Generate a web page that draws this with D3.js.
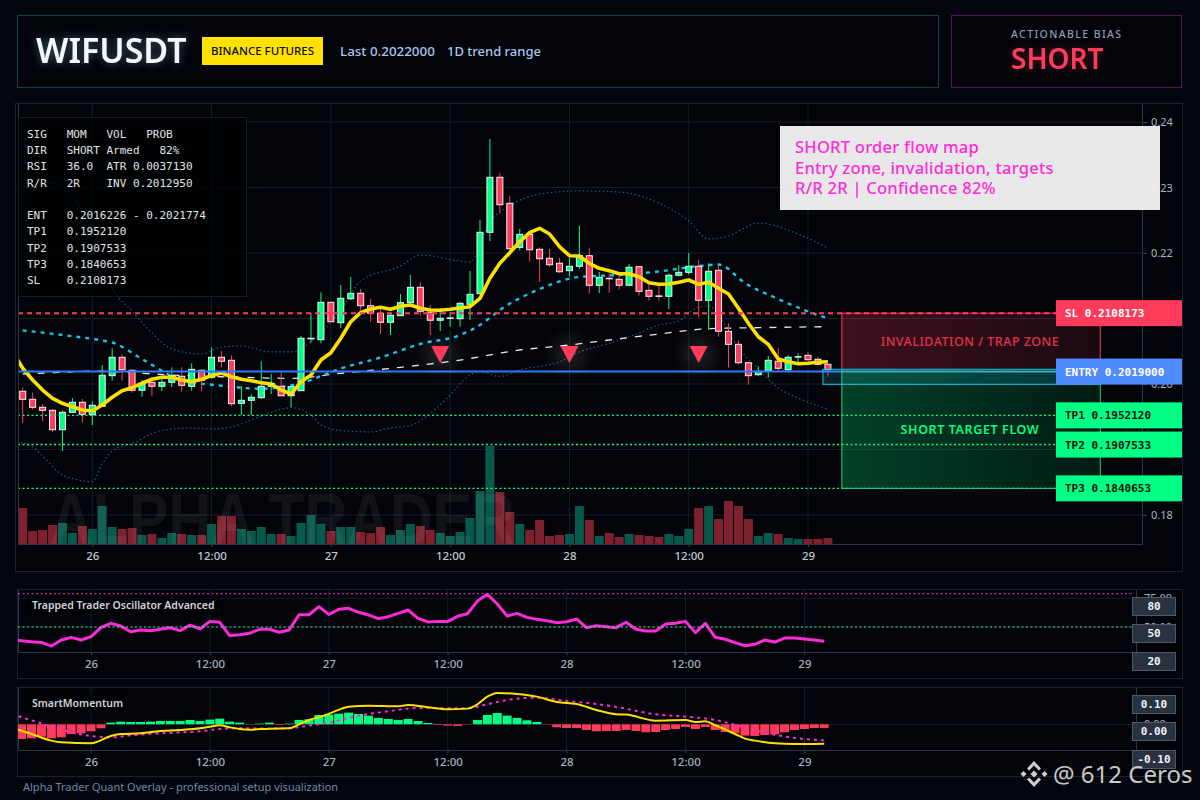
<!DOCTYPE html>
<html>
<head>
<meta charset="utf-8">
<script src="https://cdn.jsdelivr.net/npm/d3@7"></script>
<style>
    html, body { margin: 0; padding: 0; background: #03060d; }
    svg { display: block; }
    text { font-family: "Noto Sans", sans-serif; }
    .mono, .mono text { font-family: "DejaVu Sans Mono", monospace; white-space: pre; }
    .axis path { display: none; }
</style>
</head>
<body>
<div id="canvas"></div>
<script>
// hourly candles, index 7 = day 26 00:00
const candleOpen = [
    .19889, .19766, .19644, .19598, .19302, .19568, .19721, .19531, .1966, .20127,
    .20408, .20209, .19904, .20026, .19965, .20026, .20118, .19965, .20209, .20102,
    .20408, .20362, .19705, .19751, .19791, .19965, .19965, .19821, .19898, .2069,
    .20676, .21247, .20936, .21302, .21385, .21195, .21079, .20942, .21043, .21241,
    .21476, .21095, .20973, .21003, .20997, .21217, .21379, .22316, .23156, .22759,
    .22087, .22285, .22056, .21919, .21843, .2173, .21797, .21959, .21507, .21614,
    .21598, .21507, .21791, .2143, .21345, .21339, .2166, .21705, .21797, .21278,
    .21736, .20805, .20606, .20325, .20142, .20203, .20347, .20218, .2041, .20438,
    .20377, .20301];
const candleHigh = [
    .1995, .19873, .19695, .19614, .19598, .19786, .19771, .19736, .20285, .20545,
    .20453, .20224, .20061, .20111, .20087, .20255, .20255, .20316, .20224, .2056,
    .20504, .20438, .19969, .19843, .20347, .20153, .20179, .19959, .20733, .21084,
    .214, .21263, .21511, .21634, .2145, .21298, .21171, .21084, .21374, .21664,
    .21557, .21206, .21156, .21095, .21247, .21725, .22504, .2374, .23221, .2287,
    .22366, .22325, .22087, .22061, .21924, .21928, .22412, .22072, .2171, .2169,
    .21699, .21832, .21801, .21522, .21511, .2169, .21817, .22, .21889, .21843,
    .21812, .20927, .20667, .20325, .2027, .20427, .2055, .20438, .20469, .20484,
    .20412, .20301];
const candleLow = [
    .19409, .19614, .19435, .19272, .18977, .19557, .19409, .19374, .19649, .2005,
    .2005, .19867, .19806, .19821, .19893, .19954, .19882, .19898, .19898, .20081,
    .20255, .19664, .19527, .19527, .19776, .19847, .19821, .19649, .19893, .20631,
    .20621, .20951, .20855, .21282, .2111, .20947, .20763, .20748, .21043, .21232,
    .21043, .20748, .20809, .20875, .20875, .20977, .21379, .22183, .22606, .21943,
    .22035, .21867, .21557, .21791, .21699, .21638, .21756, .21379, .21389, .21394,
    .2144, .21507, .21348, .21272, .21272, .21145, .21644, .21669, .21018, .20824,
    .20722, .20249, .20295, .19989, .20127, .20096, .20188, .20188, .20316, .20356,
    .20285, .20111];
const candleClose = [
    .19766, .19644, .19598, .19302, .19568, .19721, .19537, .19675, .20133, .20408,
    .20218, .19904, .20011, .19965, .20026, .20127, .1998, .20224, .20056, .20408,
    .20347, .19699, .19751, .19797, .19965, .20011, .19821, .19959, .20698, .20698,
    .21247, .20951, .21308, .21385, .21195, .21079, .20942, .21049, .21241, .21476,
    .2111, .20973, .21003, .2101, .21232, .21369, .22316, .23156, .22737, .22066,
    .22285, .2205, .21913, .21821, .21714, .21797, .21959, .21507, .21629, .21608,
    .21507, .21782, .21415, .21339, .21339, .2166, .21705, .21797, .21278, .21721,
    .20805, .20606, .20325, .20127, .20194, .20362, .2024, .20408, .20417, .20371,
    .20301, .20218];
const volume = [
    36, 13, 14, 19, 21, 11, 18, 15, 38, 17,
    15, 16, 9, 10, 6, 11, 10, 9, 9, 20,
    28, 28, 15, 13, 17, 10, 10, 8, 21, 29,
    20, 13, 17, 17, 12, 11, 17, 9, 14, 20,
    18, 14, 11, 8, 12, 26, 53, 98, 52, 32,
    20, 14, 24, 8, 9, 10, 38, 24, 8, 11,
    7, 10, 9, 8, 7, 10, 8, 15, 36, 38,
    25, 43, 38, 25, 8, 11, 10, 6, 5, 5,
    5, 6];

// overlays on the price pane, first value sits one hour before the first candle
const emaLine = [
    .20493, .2024, .20061, .19908, .19782, .19705, .19653, .19603, .19588, .19679,
    .19797, .19898, .19944, .20011, .20072, .20102, .20102, .20061, .20035, .20072,
    .20127, .20168, .20111, .20072, .2005, .2002, .2, .19908, .19847, .20035,
    .20137, .20366, .20478, .20698, .20951, .21089, .21145, .21171, .2114, .21186,
    .21206, .21156, .2113, .21125, .2114, .2116, .2118, .21308, .21614, .21843,
    .22005, .22172, .2231, .22377, .2229, .22096, .21959, .21954, .21843, .21766,
    .2173, .21684, .21684, .21638, .21547, .21522, .21527, .21553, .21588, .21522,
    .21553, .21461, .21374, .21156, .20927, .20722, .20606, .20382, .2034, .2031,
    .20316, .20331, .2034];
const midHour = [0, 4, 8, 9, 12, 16, 20, 24, 28, 32, 36, 40, 44, 46, 48, 52, 56, 60, 64, 68, 70, 71, 72, 76, 80, 81];
const midBand = [
    .20818, .20748, .20664, .20634, .20382, .20061, .19974, .19928, .20015, .20237,
    .20405, .20611, .20748, .20901, .2113, .2145, .21634, .21664, .21718, .21801,
    .21824, .21756, .21618, .21298, .21053, .21003];
const upperHour = [0, 3, 5, 7, 9, 11, 13, 15, 18, 20, 22, 25, 27, 29, 32, 34, 38, 40, 45, 47, 49, 52, 56, 60, 64, 67, 69, 71, 74, 78, 81];
const upperBand = [
    .22962, .23069, .2287, .22305, .21466, .21114, .20779, .20534, .20458, .20565,
    .2058, .20489, .20489, .20641, .2113, .21572, .21801, .21969, .21863, .22473,
    .22718, .22901, .22947, .22931, .22763, .22489, .22214, .2226, .22458, .2229,
    .22076];
const lowerHour = [-1, 1, 2, 4, 5, 7, 8, 9, 11, 14, 17, 19, 21, 24, 27, 29, 30, 32, 35, 37, 39, 41, 43, 45, 46, 48, 50, 54, 56, 59, 62, 64, 66, 67, 68, 69, 70, 72, 74, 76, 78, 81];
const lowerBand = [
    .1913, .19043, .18901, .18611, .18557, .18508, .18779, .18977, .19092, .1929,
    .19328, .19313, .19344, .19511, .19638, .19527, .19374, .1929, .19267, .19328,
    .19366, .19553, .19832, .20137, .20191, .20115, .20214, .2034, .20489, .20621,
    .20779, .20901, .20962, .21084, .21176, .21191, .21053, .2055, .20229, .19939,
    .19786, .19614];
const slowHour = [0, 3, 8, 11, 15, 20, 27, 32, 38, 44, 50, 55, 59, 64, 69, 74, 81];
const slowLine = [
    .20153, .20173, .20198, .20173, .20137, .20111, .20087, .20163, .20255, .20366,
    .20519, .20595, .20672, .20763, .20844, .2086, .20875];

const signalHour = [42, 55, 68];
const signalPrice = [.2058, .2058, .2058];

const priceTicks = [.18, .19, .20, .21, .22, .23, .24];
const timeTicks = [7, 19, 31, 43, 55, 67, 79];
const timeLabels = ["26", "12:00", "27", "12:00", "28", "12:00", "29"];

const levelPrices = [.2108173, .2019, .195212, .1907533, .1840653];
const levelLabels = ["SL 0.2108173", "ENTRY 0.2019000", "TP1 0.1952120", "TP2 0.1907533", "TP3 0.1840653"];
const levelColors = ["#ff3b5c", "#4f8cff", "#00ff85", "#00ff85", "#00ff85"];

const tableRows = [
    "SIG   MOM   VOL   PROB",
    "DIR   SHORT Armed   82%",
    "RSI   36.0  ATR 0.0037130",
    "R/R   2R    INV 0.2012950",
    "",
    "ENT   0.2016226 - 0.2021774",
    "TP1   0.1952120",
    "TP2   0.1907533",
    "TP3   0.1840653",
    "SL    0.2108173"
];
const noteRows = ["SHORT order flow map", "Entry zone, invalidation, targets", "R/R 2R | Confidence 82%"];

// oscillator panes, first value one hour before first candle
const oscLine = [
    39.3, 38.1, 37.2, 36.6, 33.4, 38.7, 41.0, 38.7, 41.6, 49.4,
    53.2, 50.9, 45.9, 47.4, 46.8, 48.0, 49.4, 46.8, 51.7, 48.3,
    54.9, 54.1, 42.5, 43.3, 44.5, 48.0, 48.0, 45.4, 47.4, 60.7,
    60.7, 67.7, 61.0, 65.4, 66.3, 62.8, 60.5, 57.3, 59.0, 61.9,
    64.8, 57.5, 54.4, 54.9, 54.9, 59.3, 61.6, 72.6, 78.5, 70.0,
    59.6, 61.9, 58.4, 56.7, 55.5, 53.8, 54.6, 57.0, 49.4, 51.2,
    50.3, 49.4, 54.1, 48.0, 46.5, 46.5, 52.6, 53.2, 54.9, 45.1,
    53.2, 41.0, 39.3, 36.4, 33.7, 34.9, 38.7, 36.9, 40.4, 40.4,
    39.5, 38.7, 37.5];
const oscLevels = [79, 50];
const oscLevelColors = ["#ff2bd6", "#2fe6a8"];
const oscAxisTicks = [50, 75];
const oscBoxLabels = ["80", "50", "20"];

const momHist = [
    -.0533, -.0509, -.0448, -.0509, -.0473, -.0352, -.0327, -.0255, -.0145, .0061,
    .0097, .0085, .0085, .0097, .0121, .0121, .0121, .0158, .0121, .017,
    .0206, .0097, .0061, -.0012, .0024, .0061, -.0024, .0024, .0158, .0182,
    .0339, .0352, .0388, .0424, .0376, .0315, .023, .0194, .0158, .0194,
    .0121, .0048, -.0024, -.0048, -.0061, -.0012, .0158, .0339, .0412, .0315,
    .023, .0145, .0085, -.0012, -.0109, -.0133, -.0133, -.0206, -.0255, -.0242,
    -.0242, -.0206, -.0242, -.0291, -.0279, -.0206, -.017, -.0097, -.017, -.0097,
    -.0206, -.0279, -.0327, -.0412, -.0424, -.0388, -.0364, -.0291, -.0206, -.017,
    -.0133, -.0133];
const momHour = [-1, 1, 3, 4, 7, 9, 10, 12, 14, 16, 18, 19, 20, 21, 22, 23, 25, 27, 28, 29, 30, 31, 33, 35, 38, 39, 41, 43, 45, 46, 47, 48, 50, 52, 54, 56, 58, 60, 61, 64, 67, 68, 69, 70, 72, 73, 74, 76, 78, 81];
const momLine = [
    -.0121, -.0352, -.0594, -.0655, -.0691, -.0424, -.0352, -.0327, -.0242, -.0206,
    -.0145, -.0085, -.0036, -.0109, -.017, -.0194, -.0158, -.0145, 0, .0158,
    .0255, .0376, .0642, .0679, .0655, .0703, .0618, .0545, .057, .0727,
    .1006, .1139, .1103, .1006, .0812, .0739, .0521, .0364, .0352, .0133,
    .0158, .0085, .0109, -.0036, -.0352, -.0521, -.0594, -.0691, -.0715, -.0703];
const momSignalHour = [-1, 1, 3, 5, 7, 9, 11, 14, 18, 20, 22, 25, 27, 29, 31, 34, 37, 40, 45, 47, 49, 52, 55, 58, 60, 64, 67, 70, 73, 75, 78, 81];
const momSignal = [
    .0364, .0145, -.0085, -.0291, -.0424, -.0473, -.04, -.0327, -.0255, -.017,
    -.0145, -.0158, -.0145, -.0048, .0061, .0315, .0473, .0594, .0582, .0727,
    .0885, .097, .0848, .0739, .063, .0364, .0279, .0158, -.0121, -.0303,
    -.0497, -.0582];
const momAxisTicks = [0];
const momBoxLabels = ["0.10", "0.00", "-0.10"];

const green = "#00ff85", red = "#ff3b5c", gold = "#ffe100", magenta = "#ff2bd6", cyan = "#17c6e8";

const svg = d3.select("#canvas").append("svg").attr("width", 1200).attr("height", 800);
const defs = svg.append("defs");

function glow(id, color, dev, opacity) {
    const f = defs.append("filter").attr("id", id).attr("x", "-30%").attr("y", "-60%").attr("width", "160%").attr("height", "220%");
    f.append("feDropShadow").attr("dx", 0).attr("dy", 0).attr("stdDeviation", dev)
        .attr("flood-color", color).attr("flood-opacity", opacity);
}
glow("glowTitle", "#8fd8ff", 4, .4);
glow("glowShort", red, 4, .3);

function fade(id, color, from, to) {
    const g = defs.append("linearGradient").attr("id", id);
    g.append("stop").attr("offset", "0").attr("stop-color", color).attr("stop-opacity", from);
    g.append("stop").attr("offset", "1").attr("stop-color", color).attr("stop-opacity", to);
}
fade("trapFill", red, .24, .1);
fade("flowFill", green, .24, .09);

const halo = defs.append("radialGradient").attr("id", "halo");
halo.append("stop").attr("offset", "0").attr("stop-color", "#fff").attr("stop-opacity", .12);
halo.append("stop").attr("offset", "1").attr("stop-color", "#fff").attr("stop-opacity", 0);

function clip(id, x, y, w, h) {
    defs.append("clipPath").attr("id", id).append("rect").attr("x", x).attr("y", y).attr("width", w).attr("height", h);
}
clip("mainClip", 18, 104, 1124, 440);
clip("oscClip", 18, 590, 1118, 62);
clip("momClip", 18, 688, 1118, 62);

function panel(x, y, w, h, stroke, fill) {
    return svg.append("rect").attr("x", x + .5).attr("y", y + .5).attr("width", w).attr("height", h)
        .attr("fill", fill || "#02040a").attr("stroke", stroke);
}

// header
panel(17, 15, 921, 72, "#10404e");
panel(951, 15, 230, 72, "#55145f");
svg.append("text").text("WIFUSDT").attr("x", 36).attr("y", 63).attr("fill", "#f4f7fb")
    .attr("font-size", 34).attr("font-weight", 600).attr("filter", "url(#glowTitle)");
svg.append("rect").attr("x", 202).attr("y", 37).attr("width", 121).attr("height", 28).attr("fill", gold);
svg.append("text").text("BINANCE FUTURES").attr("x", 262.5).attr("y", 55).attr("text-anchor", "middle")
    .attr("fill", "#0a0a0a").attr("font-size", 11.5).attr("font-weight", 500);
svg.append("text").text("Last 0.2022000").attr("x", 340).attr("y", 56).attr("fill", "#a9c4ea")
    .attr("font-size", 13.4).attr("font-weight", 500);
svg.append("text").text("1D trend range").attr("x", 447).attr("y", 56).attr("fill", "#a9c4ea")
    .attr("font-size", 13).attr("font-weight", 500);
svg.append("text").text("ACTIONABLE BIAS").attr("x", 1011).attr("y", 38).attr("fill", "#8f9ab0")
    .attr("font-size", 10.5).attr("font-weight", 500).attr("letter-spacing", 1.4);
svg.append("text").text("SHORT").attr("x", 1011).attr("y", 69).attr("fill", red)
    .attr("font-size", 28).attr("font-weight", 600).attr("filter", "url(#glowShort)");

// main pane
panel(15, 103, 1167, 468, "#1a2230");

const x = d3.scaleLinear().domain([0, 81]).range([22.7, 827.9]);
const y = d3.scaleLinear().domain([.18, .24]).range([515, 122]);
const yVol = d3.scaleLinear().domain([0, 100]).range([544, 444]);

const grid = svg.append("g");
grid.selectAll("line.h").data(priceTicks).enter().append("line")
    .attr("x1", 18).attr("x2", 1142).attr("y1", d => y(d)).attr("y2", d => y(d)).attr("stroke", "#171c26");
grid.selectAll("line.v").data(timeTicks).enter().append("line")
    .attr("x1", d => x(d)).attr("x2", d => x(d)).attr("y1", 104).attr("y2", 544).attr("stroke", "#0f1f29");

const main = svg.append("g").attr("clip-path", "url(#mainClip)");

const isUp = i => candleClose[i] >= candleOpen[i];
const hours = d3.range(candleOpen.length);

main.selectAll("rect.vol").data(hours).enter().append("rect")
    .attr("x", i => x(i) - 4.5).attr("width", 9)
    .attr("y", i => yVol(volume[i])).attr("height", i => yVol(0) - yVol(volume[i]))
    .attr("fill", i => isUp(i) ? "#07594b" : "#7e202d");

main.append("text").text("ALPHA TRADER").attr("x", 50).attr("y", 544).attr("fill", "#fff").attr("fill-opacity", .06)
    .attr("font-size", 72).attr("font-weight", 700).attr("textLength", 465).attr("lengthAdjust", "spacingAndGlyphs")
    .attr("style", "font-family:'Liberation Sans',sans-serif");

function curve(hourArr, values, color, width, dash) {
    const line = d3.line().x((d, i) => x(hourArr[i])).y(d => y(d)).curve(d3.curveMonotoneX);
    return main.append("path").attr("d", line(values)).attr("fill", "none").attr("stroke", color)
        .attr("stroke-width", width).attr("stroke-dasharray", dash);
}

curve(upperHour, upperBand, "#14637c", 1.2, "1.5 2.5");
curve(lowerHour, lowerBand, "#14637c", 1.2, "1.5 2.5");
curve(slowHour, slowLine, "#e8e8e8", 1.3, "7 8");
curve(midHour, midBand, cyan, 2.4, "4 5");

// candles
main.selectAll("line.wick").data(hours).enter().append("line")
    .attr("x1", i => x(i)).attr("x2", i => x(i))
    .attr("y1", i => y(candleHigh[i])).attr("y2", i => y(candleLow[i]))
    .attr("stroke", i => isUp(i) ? green : red).attr("stroke-width", 1);
main.selectAll("rect.body").data(hours).enter().append("rect")
    .attr("x", i => x(i) - 3).attr("width", 6)
    .attr("y", i => y(Math.max(candleOpen[i], candleClose[i])))
    .attr("height", i => Math.max(.5, y(Math.min(candleOpen[i], candleClose[i])) - y(Math.max(candleOpen[i], candleClose[i]))))
    .attr("fill", i => isUp(i) ? green : red).attr("stroke", "#f2f2f2").attr("stroke-width", 1);

const emaPath = d3.line().x((d, i) => x(i - 1)).y(d => y(d));
main.append("path").attr("d", emaPath(emaLine)).attr("fill", "none").attr("stroke", gold)
    .attr("stroke-width", 3.6).attr("stroke-linejoin", "round");

// price levels
const levelEnd = 1056;
levelPrices.forEach((p, i) => {
    const l = main.append("line").attr("x1", 18).attr("x2", levelEnd).attr("y1", y(p)).attr("y2", y(p));
    if (i == 0) l.attr("stroke", red).attr("stroke-width", 2).attr("stroke-dasharray", "5 4");
    else if (i == 1) l.attr("stroke", "#2b7bff").attr("stroke-width", 2);
    else l.attr("stroke", green).attr("stroke-width", 1.4).attr("stroke-dasharray", "2 2.5");
});

// short signals
const triW = 9, triH = 17;
main.selectAll("circle.halo").data(signalHour).enter().append("circle")
    .attr("cx", d => x(d)).attr("cy", (d, i) => y(signalPrice[i]) + 8).attr("r", 26).attr("fill", "url(#halo)");
main.selectAll("path.sig").data(signalHour).enter().append("path")
    .attr("d", (d, i) => {
        const cx = x(d), top = y(signalPrice[i]);
        return `M${cx - triW},${top}L${cx + triW},${top}L${cx},${top + triH}Z`;
    })
    .attr("fill", red);

// zones, hours past the last candle are the projection area
const zoneStart = 82.4, zoneEnd = 108.4, entryStart = 80.5;
const zoneBox = (p1, p2, from, stroke, fill) => main.append("rect")
    .attr("x", x(from)).attr("width", x(zoneEnd) - x(from))
    .attr("y", y(p1)).attr("height", y(p2) - y(p1))
    .attr("fill", fill).attr("stroke", stroke).attr("stroke-width", 1);
zoneBox(levelPrices[0], levelPrices[1], zoneStart, red, "url(#trapFill)");
zoneBox(levelPrices[1], levelPrices[4], zoneStart, "#18d984", "url(#flowFill)");
zoneBox(.20225, .19995, entryStart, cyan, "#17c6e8").attr("fill-opacity", .16);

svg.append("text").text("INVALIDATION / TRAP ZONE").attr("x", 970).attr("y", 346).attr("text-anchor", "middle")
    .attr("fill", "#e8304e").attr("font-size", 12.5).attr("font-weight", 500).attr("letter-spacing", .5);
svg.append("text").text("SHORT TARGET FLOW").attr("x", 970).attr("y", 434).attr("text-anchor", "middle")
    .attr("fill", green).attr("font-size", 12.5).attr("font-weight", 600).attr("letter-spacing", .6);

// axes
const yAxis = svg.append("g").attr("class", "axis").attr("transform", "translate(1142,0)")
    .call(d3.axisRight(y).tickValues(priceTicks).tickFormat(d3.format(".2f")).tickSize(5).tickPadding(4));
yAxis.selectAll("line").attr("stroke", "#3a4556");
yAxis.selectAll("text").attr("fill", "#aab2c0").attr("font-size", 11).style("font-family", "'Noto Sans',sans-serif");

const xAxis = svg.append("g").attr("class", "axis").attr("transform", "translate(0,544)")
    .call(d3.axisBottom(x).tickValues(timeTicks).tickFormat((d, i) => timeLabels[i]).tickSize(3).tickPadding(5));
xAxis.selectAll("line").attr("stroke", "#3a4556");
xAxis.selectAll("text").attr("fill", "#c3c9d4").attr("font-size", 11.5).attr("font-weight", 500).style("font-family", "'Noto Sans',sans-serif");

svg.append("path").attr("d", "M18.5,104V544.5H1142.5V104").attr("fill", "none").attr("stroke", "#2c3646");

// readout table
svg.append("rect").attr("x", 18.5).attr("y", 117.5).attr("width", 228).attr("height", 179)
    .attr("fill", "#000").attr("fill-opacity", .72).attr("stroke", "#181d28");
const tableText = svg.append("g").attr("class", "mono");
const tableY = d3.scaleLinear().domain([0, 9]).range([138, 284]);
tableText.selectAll("text").data(tableRows).enter().append("text")
    .text(d => d).attr("x", 27).attr("y", (d, i) => tableY(i))
    .attr("fill", "#e2e4e8").attr("font-size", 11);

// note box
svg.append("rect").attr("x", 780).attr("y", 126).attr("width", 380).attr("height", 84).attr("fill", "#f0f0f0").attr("fill-opacity", .97);
svg.selectAll("text.note").data(noteRows).enter().append("text")
    .text(d => d).attr("x", 795).attr("y", (d, i) => 153 + i * 20.5)
    .attr("fill", magenta).attr("font-size", 16.5).attr("font-weight", 500).attr("letter-spacing", .25);

// level tags
const tags = svg.append("g").attr("class", "mono");
levelPrices.forEach((p, i) => {
    tags.append("rect").attr("x", 1056).attr("y", y(p) - 13).attr("width", 126).attr("height", 26).attr("fill", levelColors[i]);
    tags.append("text").text(levelLabels[i]).attr("x", 1065).attr("y", y(p) + 4)
        .attr("fill", i < 2 ? "#fff" : "#04130c").attr("font-size", 11).attr("font-weight", 700);
});

// sub panes
const xSub = d3.scaleLinear().domain([7, 79]).range([91, 804.4]);

function subPane(top, bottom, title, titleWidth, clipId, yScale, axisTicks, axisFormat, boxes, boxY) {
    panel(17, top, 1165, bottom - top, "#1a2230");
    const g = svg.append("g");
    g.selectAll("line.v").data(timeTicks).enter().append("line")
        .attr("x1", d => xSub(d)).attr("x2", d => xSub(d)).attr("y1", top + 1).attr("y2", top + 63).attr("stroke", "#0f1f29");
    g.selectAll("line.h").data(axisTicks).enter().append("line")
        .attr("x1", 18).attr("x2", 1136).attr("y1", d => yScale(d)).attr("y2", d => yScale(d)).attr("stroke", "#171c26");

    const ax = svg.append("g").attr("class", "axis").attr("transform", `translate(0,${top + 63})`)
        .call(d3.axisBottom(xSub).tickValues(timeTicks).tickFormat((d, i) => timeLabels[i]).tickSize(3).tickPadding(5));
    ax.selectAll("line").attr("stroke", "#3a4556");
    ax.selectAll("text").attr("fill", "#a9b0bd").attr("font-size", 11.5).attr("font-weight", 500).style("font-family", "'Noto Sans',sans-serif");

    const rightAxis = svg.append("g").attr("class", "axis").attr("transform", "translate(1136,0)")
        .call(d3.axisRight(yScale).tickValues(axisTicks).tickFormat(axisFormat).tickSize(0).tickPadding(8));
    rightAxis.selectAll("text").attr("fill", "#aab2c0").attr("font-size", 11).style("font-family", "'Noto Sans',sans-serif");

    svg.append("path").attr("d", `M18.5,${top + 1}V${top + 63.5}H1136.5V${top + 1}`).attr("fill", "none").attr("stroke", "#2c3646");

    const body = svg.append("g").attr("clip-path", `url(#${clipId})`);

    const titleG = svg.append("g");
    titleG.append("rect").attr("x", 26).attr("y", top + 7).attr("width", titleWidth).attr("height", 18).attr("fill", "#000").attr("fill-opacity", .5);
    titleG.append("text").text(title).attr("x", 32).attr("y", top + 20).attr("fill", "#cfd4dc").attr("font-size", 10.5).attr("font-weight", 600);

    const boxG = svg.append("g").attr("class", "mono");
    boxes.forEach((b, i) => {
        boxG.append("rect").attr("x", 1132.5).attr("y", boxY[i] + .5).attr("width", 43).attr("height", 18).attr("fill", "#2a323f").attr("stroke", "#4d586a");
        boxG.append("text").text(b).attr("x", 1154).attr("y", boxY[i] + 13).attr("text-anchor", "middle")
            .attr("fill", "#eef3f8").attr("font-size", 11).attr("font-weight", 700);
    });
    return body;
}

const yOsc = d3.scaleLinear().domain([50, 75]).range([627, 598.3]);
const oscBody = subPane(589, 678, "Trapped Trader Oscillator Advanced", 195, "oscClip", yOsc, oscAxisTicks, d3.format(".2f"), oscBoxLabels, [597, 624, 652]);
oscLevels.forEach((v, i) => {
    svg.append("line").attr("x1", 18).attr("x2", 1132).attr("y1", yOsc(v)).attr("y2", yOsc(v))
        .attr("stroke", oscLevelColors[i]).attr("stroke-width", 1).attr("stroke-dasharray", "2 2.5");
});
const oscPath = d3.line().x((d, i) => xSub(i - 1)).y(d => yOsc(d));
oscBody.append("path").attr("d", oscPath(oscLine)).attr("fill", "none").attr("stroke", magenta).attr("stroke-width", 3).attr("stroke-linejoin", "round");

const yMom = d3.scaleLinear().domain([0, .1]).range([724.3, 696.8]);
const momBody = subPane(687, 776, "SmartMomentum", 99, "momClip", yMom, momAxisTicks, d3.format(".2f"), momBoxLabels, [695, 722, 750]);
momBody.selectAll("rect").data(momHist).enter().append("rect")
    .attr("x", (d, i) => xSub(i) - 4.5).attr("width", 9)
    .attr("y", d => Math.min(yMom(d), yMom(0))).attr("height", d => Math.abs(yMom(d) - yMom(0)))
    .attr("fill", d => d >= 0 ? green : red);
const momPath = d3.line().x((d, i) => xSub(momHour[i])).y(d => yMom(d)).curve(d3.curveMonotoneX);
const sigPath = d3.line().x((d, i) => xSub(momSignalHour[i])).y(d => yMom(d)).curve(d3.curveMonotoneX);
momBody.append("path").attr("d", sigPath(momSignal)).attr("fill", "none").attr("stroke", magenta).attr("stroke-width", 2).attr("stroke-dasharray", "3 4");
momBody.append("path").attr("d", momPath(momLine)).attr("fill", "none").attr("stroke", gold).attr("stroke-width", 2);

// footer and stamp
svg.append("text").text("Alpha Trader Quant Overlay - professional setup visualization").attr("x", 23).attr("y", 791)
    .attr("fill", "#6f87a6").attr("font-size", 11);
svg.append("text").text("@ 612 Ceros").attr("x", 1053).attr("y", 783).attr("fill", "#c9c9c9").attr("font-size", 24);
const logo = svg.append("g").attr("transform", "translate(1034,774)").attr("fill", "#d0d0d0");
[[0, 0, 3.6], [-10.5, 0, 3], [10.5, 0, 3]].forEach(d => {
    logo.append("path").attr("d", `M${d[0] - d[2]},${d[1]}L${d[0]},${d[1] - d[2]}L${d[0] + d[2]},${d[1]}L${d[0]},${d[1] + d[2]}Z`);
});
logo.append("path").attr("d", "M-7,-5.5L0,-13L7,-5.5L4.8,-3.4L0,-8.5L-4.8,-3.4Z");
logo.append("path").attr("d", "M-7,5.5L0,13L7,5.5L4.8,3.4L0,8.5L-4.8,3.4Z");
</script>
</body>
</html>
